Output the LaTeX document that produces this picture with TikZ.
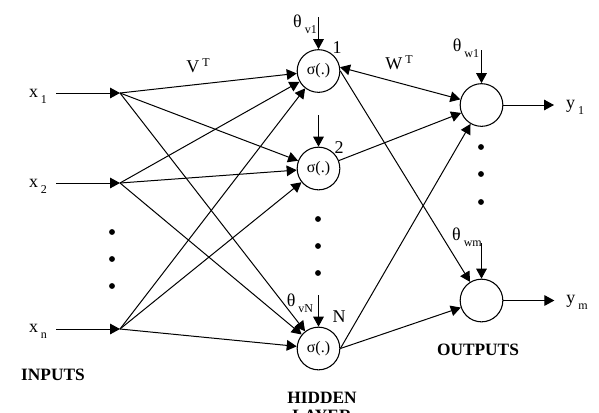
\documentclass[tikz,border=0pt]{standalone}
\usepackage{fontspec}
\setmainfont{Liberation Serif}
\usetikzlibrary{arrows.meta}

\newcommand{\lowidx}[1]{\,\raisebox{-.7ex}{\fontsize{9}{9}\selectfont #1}}
\newcommand{\highidx}[1]{\,\raisebox{.75ex}{\fontsize{9}{9}\selectfont #1}}

\begin{document}
\begin{tikzpicture}[x=0.75pt,y=-0.75pt,
    every node/.style={font=\fontsize{13.5}{13.5}\selectfont, inner sep=1pt},
    neuron/.style={draw, circle, minimum size=32pt, inner sep=0pt, line width=0.8pt,
        font=\fontsize{12}{12}\selectfont},
    inlbl/.style={outer sep=6pt},
    outlbl/.style={outer sep=8pt},
    arr/.style={line width=0.75pt, -{Triangle[length=7.5pt,width=8pt]}},
    dblarr/.style={line width=0.75pt, {Triangle[length=7.5pt,width=8pt]}-{Triangle[length=7.5pt,width=8pt]}},
    layertitle/.style={font=\bfseries\fontsize{13}{13.5}\selectfont, align=center}]
            \clip (0,0) rectangle (599,412);
            % inputs
            \node[inlbl] (x1) at (38,96) {x\lowidx{1}};
            \node[inlbl] (x2) at (38,186) {x\lowidx{2}};
            \node[inlbl] (xn) at (38,331) {x\lowidx{n}};
            \coordinate (in1) at (120,93);
            \coordinate (in2) at (120,183);
            \coordinate (inn) at (120,329);
            \draw[arr] (x1.east |- in1) -- (in1);
            \draw[arr] (x2.east |- in2) -- (in2);
            \draw[arr] (xn.east |- inn) -- (inn);
            \fill (112,232) circle (2.2pt);
            \fill (112,259) circle (2.2pt);
            \fill (112,286) circle (2.2pt);
            % hidden layer
            \node[neuron] (h1) at (318.5,71) {σ(.)};
            \node[neuron] (h2) at (318.5,168.5) {σ(.)};
            \node[neuron] (hN) at (318.5,348.5) {σ(.)};
            \node (n1) at (337,48) {1};
            \node (n2) at (339,148) {2};
            \node (nN) at (339,317) {N};
            \fill (318,219) circle (2.2pt);
            \fill (318,246) circle (2.2pt);
            \fill (318,273) circle (2.2pt);
            \coordinate (tv1) at (318.5,17);
            \coordinate (tv2) at (318.5,115);
            \coordinate (tvN) at (318.5,295);
            \draw[arr] (tv1) -- (h1);
            \draw[arr] (tv2) -- (h2);
            \draw[arr] (tvN) -- (hN);
            \node (thv1) at (305,24) {θ\lowidx{v1}};
            \node (thvN) at (300,303) {θ\lowidx{vN}};
            % input weights
            \draw[arr] (in1) -- (h1);
            \draw[arr] (in1) -- (h2);
            \draw[arr] (in1) -- (hN);
            \draw[arr] (in2) -- (h1);
            \draw[arr] (in2) -- (h2);
            \draw[arr] (in2) -- (hN);
            \draw[arr] (inn) -- (h1);
            \draw[arr] (inn) -- (h2);
            \draw[arr] (inn) -- (hN);
            \node (vt) at (198,66) {V\highidx{T}};
            % outputs
            \node[neuron] (o1) at (481.5,105) {};
            \node[neuron] (om) at (481.5,300.5) {};
            \fill (481,147) circle (2.2pt);
            \fill (481,174) circle (2.2pt);
            \fill (481,202) circle (2.2pt);
            \coordinate (tw1) at (481.5,50);
            \coordinate (twm) at (481.5,243);
            \draw[arr] (tw1) -- (o1);
            \draw[arr] (twm) -- (om);
            \node (thw1) at (466,48) {θ\lowidx{w1}};
            \node (thwm) at (467,237) {θ\lowidx{wm}};
            % output weights
            \draw[dblarr] (h1.10) -- (o1);
            \draw[arr] (h1.east) -- (om);
            \draw[arr] (h2) -- (o1);
            \draw[arr] (hN.east) -- (o1);
            \draw[arr] (hN.east) -- (om);
            \node (wt) at (399,63) {W\highidx{T}};
            \node[outlbl] (y1) at (575,107) {y\lowidx{1}};
            \node[outlbl] (ym) at (577,302) {y\lowidx{m}};
            \draw[arr] (o1) -- (o1 -| y1.west);
            \draw[arr] (om) -- (om -| ym.west);
            % layer titles
            \node[layertitle] (inputs) at (53,375) {INPUTS};
            \node[layertitle] (outputs) at (478,350) {OUTPUTS};
            \node[layertitle, anchor=north] (hidden) at (322,391) {HIDDEN\\LAYER};
        \end{tikzpicture}
\end{document}
